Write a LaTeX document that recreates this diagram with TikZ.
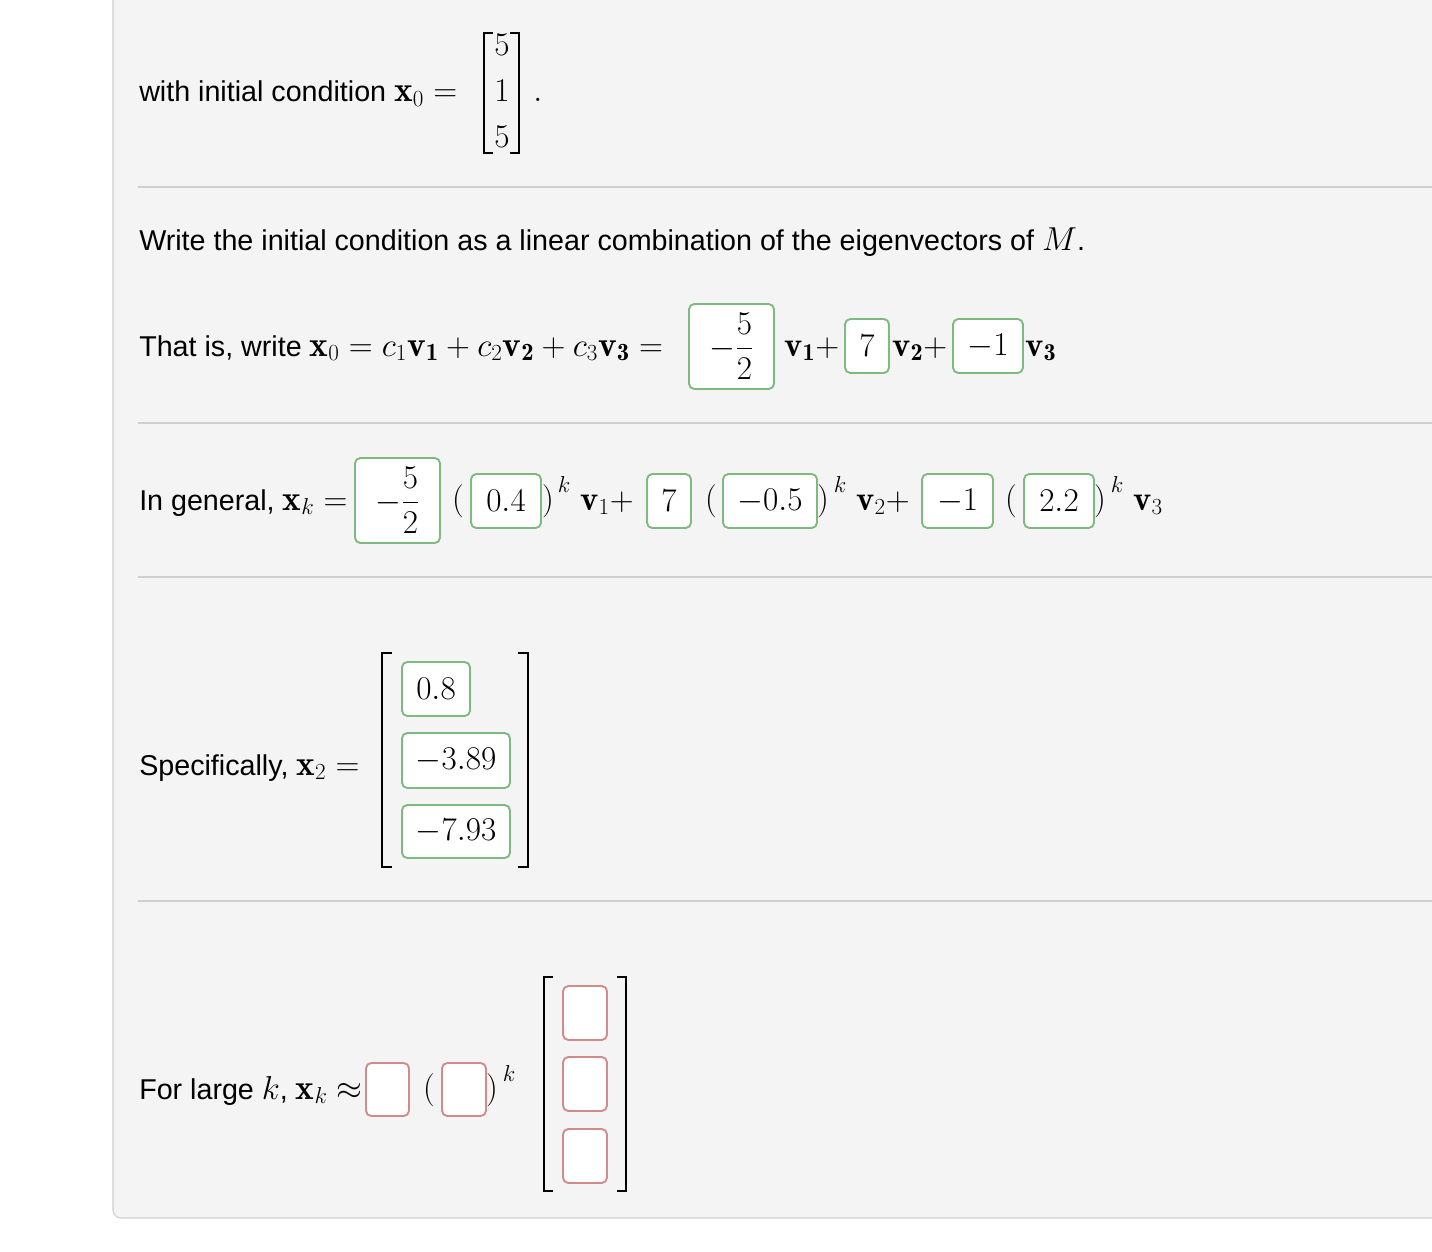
\documentclass[tikz,border=0pt]{standalone}
\usepackage{fontspec}
\newfontfamily\hsans{Liberation Sans}
\definecolor{panel}{HTML}{F4F4F4}
\definecolor{rulec}{HTML}{CFCFCF}
\definecolor{gbox}{HTML}{7DBA7D}
\definecolor{rbox}{HTML}{D48A8A}
\newcommand\mm[1]{{\fontsize{26.5}{30}\selectfont$#1$}}
\tikzset{
 txt/.style={anchor=base west,inner sep=0pt,font=\fontsize{21.5}{26}\selectfont\hsans},
 mth/.style={anchor=base west,inner sep=0pt,font=\fontsize{26}{30}\selectfont},
 par/.style={anchor=center,inner sep=0pt,font=\fontsize{26}{30}\selectfont},
 sup/.style={anchor=center,inner sep=0pt,font=\fontsize{17}{20}\selectfont},
 gb/.style={draw=gbox,fill=white,line width=1.4pt,rounded corners=4pt},
 rb/.style={draw=rbox,fill=white,line width=1.4pt,rounded corners=4pt},
 brk/.style={line width=1.5pt},
 hr/.style={draw=rulec,line width=1pt}
}
\newcommand\gbox[5]{\draw[gb] (#1,#2) rectangle (#3,#4);
 \node[font=\fontsize{25}{29}\selectfont,inner sep=0pt] at ({(#1+#3)/2},{(#2+#4)/2}) {#5};}
\newcommand\rbx[4]{\draw[rb] (#1,#2) rectangle (#3,#4);}
\begin{document}
\begin{tikzpicture}[x=0.75pt,y=-0.75pt]
\useasboundingbox (0,0) rectangle (1432,1252);
\fill[white] (0,0) rectangle (1432,1252);
\draw[fill=panel,draw=rulec,line width=0.8pt,rounded corners=6pt] (1440,1218) -- (113,1218) -- (113,-10) -- (1440,-10);
\draw[hr] (138,187) -- (1432,187);
\draw[hr] (138,423) -- (1432,423);
\draw[hr] (138,577) -- (1432,577);
\draw[hr] (138,901) -- (1432,901);
% row 1
\node[txt] (t1) at (139,102) {with initial condition \mm{\mathbf{x}_0=}};
\draw[brk] (493,33) -- (484,33) -- (484,153) -- (493,153);
\draw[brk] (510,33) -- (519,33) -- (519,153) -- (510,153);
\node[par] (a1) at (502,45) {$5$};
\node[par] (a2) at (502,91) {$1$};
\node[par] (a3) at (502,137) {$5$};
\node[mth] (dot) at (533,102) {$.$};
% row 2
\node[txt] (t2) at (139,251) {Write the initial condition as a linear combination of the eigenvectors of \mm{M}.};
% row 3
\node[txt] (t3) at (139,356) {That is, write \mm{\mathbf{x}_0=c_1\mathbf{v_1}+c_2\mathbf{v_2}+c_3\mathbf{v_3}=}};
\gbox{689}{304}{774}{389}{$-\displaystyle\frac{5}{2}$}
\node[mth] (v1) at (784,356) {$\mathbf{v_1}+$};
\gbox{845}{319}{889}{373}{$7$}
\node[mth] (v2) at (892,356) {$\mathbf{v_2}+$};
\gbox{953}{319}{1023}{373}{$-1$}
\node[mth] (v3) at (1025,356) {$\mathbf{v_3}$};
% row 4
\node[txt] (t4) at (139,510) {In general, \mm{\mathbf{x}_k=}};
\gbox{355}{458}{440}{543}{$-\displaystyle\frac{5}{2}$}
\node[par] (p1) at (458,501) {$\Bigl($};
\gbox{471}{474}{541}{528}{$0.4$}
\node[par] (q1) at (548,501) {$\Bigr)$};
\node[sup] (k1) at (564,484) {$k$};
\node[mth] (w1) at (580,510) {$\mathbf{v}_1+$};
\gbox{647}{474}{691}{528}{$7$}
\node[par] (p2) at (711,501) {$\Bigl($};
\gbox{723}{474}{817}{528}{$-0.5$}
\node[par] (q2) at (823,501) {$\Bigr)$};
\node[sup] (k2) at (840,484) {$k$};
\node[mth] (w2) at (856,510) {$\mathbf{v}_2+$};
\gbox{922}{474}{993}{528}{$-1$}
\node[par] (p3) at (1011,501) {$\Bigl($};
\gbox{1024}{474}{1094}{528}{$2.2$}
\node[par] (q3) at (1100,501) {$\Bigr)$};
\node[sup] (k3) at (1117,484) {$k$};
\node[mth] (w3) at (1133,510) {$\mathbf{v}_3$};
% row 5
\node[txt] (t5) at (139,775) {Specifically, \mm{\mathbf{x}_2=}};
\draw[brk] (392,653) -- (382,653) -- (382,867) -- (392,867);
\draw[brk] (518,653) -- (528,653) -- (528,867) -- (518,867);
\gbox{402}{662}{470}{716}{$0.8$}
\gbox{402}{733}{510}{788}{$-3.89$}
\gbox{402}{805}{510}{858}{$-7.93$}
% row 6
\node[txt] (t6) at (139,1099) {For large \mm{k}, \mm{\mathbf{x}_k\approx}};
\rbx{366}{1063}{409}{1116}
\node[par] (p4) at (429,1090) {$\Bigl($};
\rbx{442}{1063}{486}{1116}
\node[par] (q4) at (492,1090) {$\Bigr)$};
\node[sup] (k4) at (509,1073) {$k$};
\draw[brk] (553,977) -- (544,977) -- (544,1191) -- (553,1191);
\draw[brk] (617,977) -- (626,977) -- (626,1191) -- (617,1191);
\rbx{563}{986}{607}{1040}
\rbx{563}{1057}{607}{1111}
\rbx{563}{1129}{607}{1183}
\end{tikzpicture}
\end{document}
